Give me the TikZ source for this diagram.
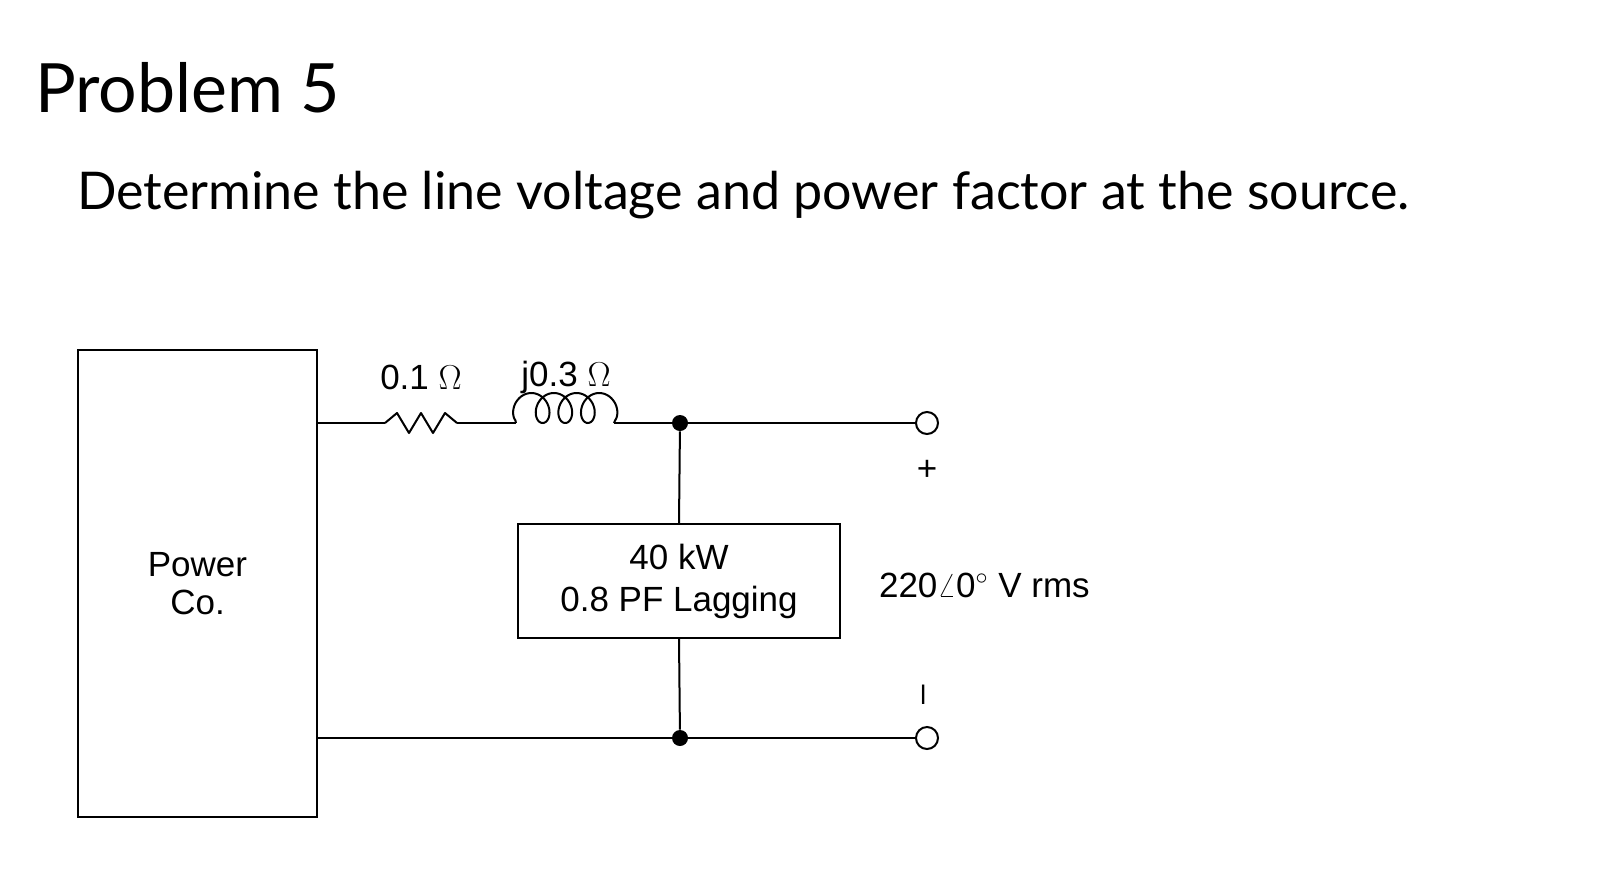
\documentclass[tikz,border=0pt]{standalone}
\usepackage{fontspec}
\setmainfont{Liberation Sans}
\newfontfamily\titlefont{Lato}
\begin{document}
\begin{tikzpicture}[x=0.5pt,y=-0.5pt,
  wire/.style={line width=1pt},
  lbl/.style={font=\fontsize{17.5}{19}\selectfont},
  dot/.style={circle,fill,inner sep=0pt,minimum size=8pt},
  term/.style={circle,draw,line width=1pt,inner sep=0pt,minimum size=11pt,fill=white}]
\useasboundingbox (0,0) rectangle (1600,890);
\node[anchor=west,font=\titlefont\fontsize{34}{40}\selectfont] (title) at (28,88) {Problem 5};
\node[anchor=west,font=\titlefont\fontsize{26}{30}\selectfont] (sub) at (70,195) {Determine the line voltage and power factor at the source.};
\node[draw,line width=1pt,minimum width=119.5pt,minimum height=233.5pt,lbl,align=center] (pc) at (197.5,583.5) {Power\\Co.};
\node[draw,line width=1pt,minimum width=161pt,minimum height=57pt,lbl,align=center] (load) at (679,581) {40 kW\\[2pt]0.8 PF Lagging};
\node[dot] (j1) at (680,423) {};
\node[dot] (j2) at (680,738) {};
\node[term] (t1) at (927,423) {};
\node[term] (t2) at (927,738) {};
\coordinate (a) at (317,423);
\coordinate (b) at (317,738);
\coordinate (r1) at (385,423);
\coordinate (r2) at (457,423);
\coordinate (l1) at (516,423);
\coordinate (l2) at (614,423);
\draw[wire] (a) -- (r1);
\draw[wire,line join=round] (r1) -- ++(12,-10) -- ++(12,20) -- ++(12,-20) -- ++(12,20) -- ++(12,-20) -- ++(12,10) -- (r2);
\draw[wire] (r2) -- (l1);
\draw[wire] (l1) -- plot[domain=0.6:24.53,samples=200,variable=\t] ({520+3.6*\t-12*sin(\t r)},{423-15*(1-cos(\t r))}) -- (l2);
\draw[wire] (l2) -- (j1) -- (t1);
\draw[wire] (b) -- (j2) -- (t2);
\draw[wire] (j1) -- (load.north);
\draw[wire] (load.south) -- (j2);
\node[lbl] (rl) at (421,377) {0.1 $\Omega$};
\node[lbl] (ll) at (566,377) {j0.3 $\Omega$};
\node[lbl] (plus) at (927,470) {+};
\node[lbl,rotate=90] (minus) at (927,695) {--};
\node[lbl,anchor=west] (v) at (872,585) {220$\angle$0$^\circ$ V rms};
\end{tikzpicture}
\end{document}
